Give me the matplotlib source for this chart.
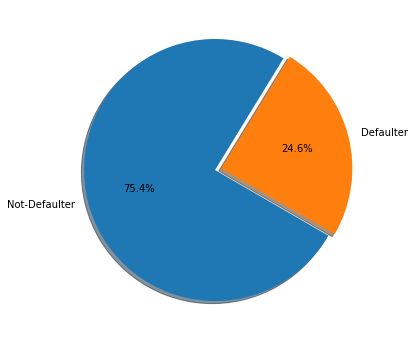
import matplotlib
matplotlib.use('Agg')
import matplotlib.pyplot as plt

labels = ['Not-Defaulter', 'Defaulter']
values = [75.4, 24.6]
explode = [0, 0.05]

fig = plt.figure(figsize=(416 / 72, 340 / 72), dpi=72)
# pie center at about (215, 170) px, radius about 131 px
ax = fig.add_axes([51.25 / 416, 6.25 / 340, 327.5 / 416, 327.5 / 340])
ax.pie(values, labels=labels, explode=explode, autopct='%1.1f%%',
       shadow=True, startangle=58.5)
fig.savefig('out.png', dpi=72)
